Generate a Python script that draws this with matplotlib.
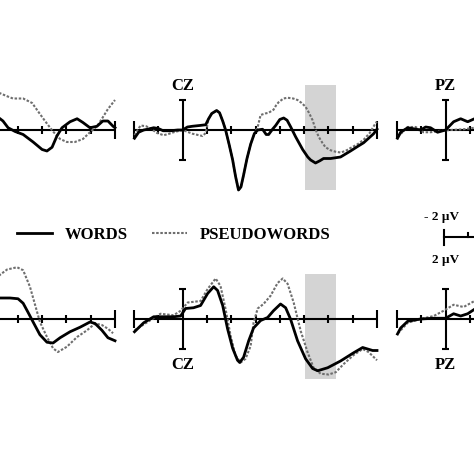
import matplotlib.pyplot as plt

plt.rcParams['font.family'] = ['Liberation Serif', 'DejaVu Serif']
plt.rcParams['font.weight'] = 'bold'

# times in ms, amplitudes in microvolts (negative is drawn upward)
# left column (only ~330-800 ms visible)
l_top_t_w = [318, 327, 339, 360, 389, 422, 463, 500, 520, 541, 561, 582, 615, 644, 668, 697,
             726, 750, 771, 792, 800]
l_top_w = [-1.7, -1.5, -1.2, -0.3, 0.2, 0.6, 1.6, 2.6, 2.8, 2.3, 0.8, -0.3, -1.1, -1.5, -1.0, -0.3,
           -0.5, -1.2, -1.2, -0.5, -0.3]
l_top_t_p = [318, 327, 356, 380, 422, 459, 483, 512, 545, 574, 602, 635, 668, 697, 726, 750, 771, 800]
l_top_p = [-5.0, -4.9, -4.5, -4.2, -4.2, -3.6, -2.5, -1.2, 0.2, 1.2, 1.6, 1.6, 1.2, 0.3, -0.5, -1.7,
           -2.8, -4.0]

l_bot_t_w = [318, 327, 368, 401, 422, 442, 463, 491, 520, 545, 574, 615, 656, 697, 718, 746, 771, 800]
l_bot_w = [-2.8, -2.8, -2.8, -2.7, -2.1, -0.9, 0.4, 2.1, 3.1, 3.2, 2.5, 1.7, 1.1, 0.4, 0.6, 1.5, 2.5, 2.9]
l_bot_t_p = [318, 327, 356, 397, 422, 450, 471, 491, 520, 545, 565, 602, 644, 685, 718, 746, 771, 792]
l_bot_p = [-5.6, -5.9, -6.6, -6.9, -6.5, -4.3, -1.9, 0.4, 2.4, 3.9, 4.4, 3.7, 2.4, 1.5, 0.6, 0.8, 1.3, 1.9]

# CZ
cz_top_t_w = [-198, -181, -160, -144, -119, -100, -80, -49, -20, 0, 20, 41, 70, 95, 107, 120, 140,
              152, 165, 177, 192, 206, 218, 230, 240, 251, 265, 280, 295, 309, 329, 344, 354, 370,
              383, 400, 416, 430, 445, 465, 494, 515, 527, 547, 565, 580, 609, 650, 691, 720, 745,
              786, 800]
cz_top_w = [1.1, 0.3, 0.0, -0.1, -0.3, -0.2, 0.1, 0.1, 0.0, 0.0, -0.4, -0.5, -0.6, -0.7, -1.5, -2.2, -2.6,
            -2.3, -1.2, 0.0, 2.0, 4.0, 6.2, 8.0, 7.6, 6.0, 3.8, 1.9, 0.5, 0.0, -0.1, 0.6, 0.6, -0.1,
            -0.6, -1.4, -1.6, -1.3, -0.4, 0.9, 2.6, 3.6, 4.0, 4.4, 4.1, 3.8, 3.8, 3.6, 2.8, 2.2, 1.7,
            0.5, -0.1]
cz_top_t_p = [-198, -185, -173, -150, -132, -105, -78, -55, -37, 0, 41, 82, 95, 107, 120, 140, 152,
              165, 177, 192, 206, 218, 230, 240, 251, 265, 280, 295, 309, 321, 340, 354, 374, 385,
              395, 415, 432, 455, 473, 490, 506, 520, 535, 548, 560, 575, 588, 609, 630, 650, 670,
              691, 720, 745, 770, 794, 800]
cz_top_p = [0.7, 0.0, -0.6, -0.5, -0.2, 0.4, 0.7, 0.5, 0.3, 0.0, 0.5, 0.8, 0.4, -1.5, -2.2, -2.6, -2.3,
            -1.2, 0.0, 2.0, 4.0, 6.2, 8.0, 7.6, 6.0, 3.8, 1.9, 0.5, -0.4, -2.0, -2.2, -2.3, -2.7, -3.3,
            -3.7, -4.2, -4.3, -4.2, -4.0, -3.6, -3.1, -2.3, -1.3, 0.0, 0.9, 1.7, 2.3, 2.7, 2.9, 3.0, 2.8,
            2.4, 1.9, 1.3, 0.4, -0.9, -1.1]

cz_bot_t_w = [-198, -160, -119, -78, -37, -8, 12, 45, 74, 103, 128, 144, 165, 185, 206, 226, 235,
              251, 272, 292, 321, 350, 374, 403, 424, 444, 473, 506, 535, 556, 597, 650, 704, 741,
              782, 800]
cz_bot_w = [1.7, 0.5, -0.3, -0.3, -0.3, -0.4, -1.4, -1.5, -1.8, -3.4, -4.3, -3.8, -1.8, 1.3, 3.9, 5.5, 5.8,
            5.1, 2.9, 1.2, 0.2, -0.2, -1.1, -2.0, -1.5, 0.0, 2.9, 5.3, 6.6, 6.9, 6.5, 5.6, 4.5, 3.8,
            4.2, 4.2]
cz_bot_t_p = [-198, -144, -91, -37, -8, 21, 74, 103, 136, 156, 177, 198, 218, 239, 259, 280, 292,
              309, 333, 362, 391, 412, 432, 457, 486, 514, 539, 568, 601, 630, 663, 704, 741, 765, 800]
cz_bot_p = [1.5, 0.4, -0.7, -0.5, -1.1, -2.2, -2.4, -4.0, -5.4, -4.4, -1.3, 2.3, 4.9, 5.8, 5.3, 3.6, 0.5,
            -1.4, -2.0, -3.1, -4.8, -5.4, -4.7, -2.2, 1.6, 4.4, 6.5, 7.3, 7.4, 7.1, 6.0, 4.8, 4.0, 4.4, 5.5]

# PZ (only -200..120 ms visible)
pz_top_t_w = [-198, -185, -156, -103, -82, -62, -33, 0, 33, 62, 91, 119, 145]
pz_top_w = [1.1, 0.3, -0.3, 0.0, -0.4, -0.3, 0.3, 0.0, -1.1, -1.5, -1.1, -1.5, -1.3]
pz_top_t_p = [-196, -156, -123, -91, -62, -21, 21, 74, 119, 145]
pz_top_p = [0.9, -0.4, -0.4, 0.3, 0.3, 0.1, 0.0, -0.1, -0.3, -0.4]

pz_bot_t_w = [-198, -185, -156, -103, -49, 0, 33, 62, 91, 119, 145]
pz_bot_w = [2.0, 1.2, 0.3, 0.0, -0.1, -0.1, -0.7, -0.4, -0.7, -1.3, -1.6]
pz_bot_t_p = [-196, -156, -103, -49, -8, 33, 74, 119, 145]
pz_bot_p = [1.9, 0.5, 0.0, -0.4, -1.1, -1.9, -1.6, -2.4, -2.6]

window = (505, 633)
ticks = [-100, 100, 200, 300, 400, 500, 600, 700]

W = 474
PX_MS = 0.243
PX_UV = 7.5
H = 160

fig = plt.figure(figsize=(4.74, 4.74), dpi=100)


def panel(x_left, axis_y, shade=False):
    w = 1000 * PX_MS
    ax = fig.add_axes([x_left / W, (W - axis_y - H / 2) / W, w / W, H / W])
    half = H / 2 / PX_UV
    ax.set_xlim(-200, 800)
    ax.set_ylim(half, -half)
    ax.axis('off')
    k = dict(color='black', lw=1.5, solid_capstyle='butt', clip_on=False)
    ax.plot([-200, 800], [0, 0], **k)
    for t in ticks:
        ax.plot([t, t], [-0.55, 0.55], **k)
    for t in (-200, 800):
        ax.plot([t, t], [-1.2, 1.2], **k)
    ax.plot([0, 0], [-4, 4], **k)
    for v in (-4, 4):
        ax.plot([-16, 16], [v, v], **k)
    if shade:
        ax.fill_between(window, -6.0, 8.0, color='#d4d4d4', lw=0, zorder=0)
    return ax


def curves(ax, tw, w, tp, p):
    lw_, = ax.plot(tw, w, color='black', lw=2.0, clip_on=False, zorder=3, label='WORDS',
                   solid_joinstyle='round')
    lp_, = ax.plot(tp, p, color='#6e6e6e', lw=1.5, ls=(0, (1.2, 0.8)), clip_on=False,
                   zorder=2, label='PSEUDOWORDS')
    return lw_, lp_


ax = panel(-128, 130)
curves(ax, l_top_t_w, l_top_w, l_top_t_p, l_top_p)
ax = panel(-128, 319)
curves(ax, l_bot_t_w, l_bot_w, l_bot_t_p, l_bot_p)

ax = panel(134, 130, shade=True)
handles = curves(ax, cz_top_t_w, cz_top_w, cz_top_t_p, cz_top_p)
ax.text(0, -5.9, 'CZ', ha='center', va='center', fontsize=12, fontweight='bold')
ax = panel(134, 319, shade=True)
curves(ax, cz_bot_t_w, cz_bot_w, cz_bot_t_p, cz_bot_p)
ax.text(0, 6.1, 'CZ', ha='center', va='center', fontsize=12, fontweight='bold')

ax = panel(397, 130)
curves(ax, pz_top_t_w, pz_top_w, pz_top_t_p, pz_top_p)
ax.text(0, -5.9, 'PZ', ha='center', va='center', fontsize=12, fontweight='bold')
ax = panel(397, 319)
curves(ax, pz_bot_t_w, pz_bot_w, pz_bot_t_p, pz_bot_p)
ax.text(0, 6.1, 'PZ', ha='center', va='center', fontsize=12, fontweight='bold')

# amplitude / time scale
sc = fig.add_axes([(444 - 24.3) / W, (W - 237 - 30) / W, 60 / W, 60 / W])
sc.set_xlim(-100, -100 + 60 / PX_MS)
sc.set_ylim(4, -4)
sc.axis('off')
sc.plot([0, 0], [-1, 1], color='black', lw=1.5)
sc.plot([0, 200], [0, 0], color='black', lw=1.5, clip_on=False)
sc.plot([100, 100], [-0.5, 0], color='black', lw=1.5)
sc.text(-8, -2.7, '- 2 \u00b5V', ha='center', va='center', fontsize=9.5)
sc.text(8, 3.1, '2 \u00b5V', ha='center', va='center', fontsize=9.5)

fig.legend(handles=list(handles), loc='center left', bbox_to_anchor=(17 / W, 1 - 235 / W),
           ncol=2, frameon=False, fontsize=12, handlelength=2.1, handletextpad=0.78,
           columnspacing=1.44, borderpad=0, borderaxespad=0)

fig.savefig('out.png', dpi=100, facecolor='white')
